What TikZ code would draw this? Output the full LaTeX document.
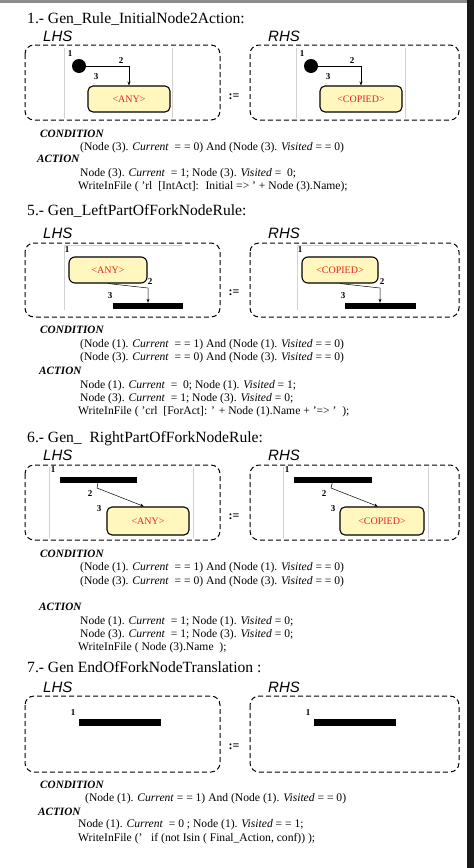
\documentclass[tikz,border=0pt]{standalone}
\usepackage{fontspec}
\setmainfont{Liberation Serif}
\setsansfont{Liberation Sans}
\usepackage{xcolor}
\usepackage{tikz}
\usetikzlibrary{arrows.meta}
\definecolor{anyfill}{RGB}{255,247,190}
\definecolor{anyred}{RGB}{228,38,34}

\begin{document}
\begin{tikzpicture}[
        x = 1pt, y = -1pt,
        rulebox/.style = {dash pattern = on 5pt off 3pt, line width = 1pt, rounded corners = 9pt},
        framegray/.style = {draw = black!18, line width = 0.5pt},
        flow/.style = {line width = 0.5pt, -{Stealth[length = 4pt, width = 3pt]}},
    ]
    \tikzstyle{headline} = [anchor = base west, inner sep = 0pt, font = \fontsize{15.6}{17}\selectfont];
    \tikzstyle{side} = [anchor = base west, inner sep = 0pt, font = \sffamily\itshape\fontsize{15}{17}\selectfont];
    \tikzstyle{keyword} = [anchor = base west, inner sep = 0pt, font = \bfseries\itshape\fontsize{11.2}{13}\selectfont];
    \tikzstyle{rulet} = [anchor = base west, inner sep = 0pt, font = \fontsize{11.6}{13}\selectfont];
    \tikzstyle{idx} = [inner sep = 0pt, font = \bfseries\fontsize{9}{10}\selectfont];
    \tikzstyle{assign} = [inner sep = 0pt, font = \bfseries\fontsize{12}{13}\selectfont];
    \tikzstyle{ctrlbox} = [draw = black, fill = anyfill, line width = 1.1pt, rounded corners = 5pt, inner sep = 0pt, text = anyred, font = \fontsize{10}{11}\selectfont];
    \tikzstyle{forkbar} = [fill = black, inner sep = 0pt, minimum height = 6pt];
    \tikzstyle{initdot} = [circle, fill = black, inner sep = 0pt, minimum size = 14pt];
    \useasboundingbox (0,0) rectangle (474,868);
    \fill [white] (0,0) rectangle (474,868);
    \fill [black!45] (0,0) rectangle (474,3);
    \fill [black!90] (467,0) rectangle (474,868);

    % 1.- initial node
    \node [headline] (title1) at (27,23) {1.- Gen\_Rule\_InitialNode2Action:};
    \node [side] (lhs1) at (43,41) {LHS};
    \node [side] (rhs1) at (268,41) {RHS};
    \draw [rulebox] (25,45) rectangle (220,120);
    \draw [rulebox] (250,45) rectangle (459,120);
    \draw [framegray] (64,48) -- (64,118) (172,48) -- (172,118);
    \draw [framegray] (296,48) -- (296,118) (405,48) -- (405,118);
    \node [initdot] (init1) at (79,66) {};
    \node [ctrlbox, minimum width = 82pt, minimum height = 26pt] (any1) at (129,99) {<ANY>};
    \node [idx] (n1a) at (70,54) {1};
    \node [idx] (n1b) at (121,61) {2};
    \node [idx] (n1c) at (96,77) {3};
    \draw [flow] (init1) -| (any1);
    \node [initdot] (init1r) at (311,66) {};
    \node [ctrlbox, minimum width = 82pt, minimum height = 26pt] (copied1) at (361,99) {<COPIED>};
    \node [idx] (n1ar) at (302,54) {1};
    \node [idx] (n1br) at (352,61) {2};
    \node [idx] (n1cr) at (328,77) {3};
    \draw [flow] (init1r) -| (copied1);
    \node [assign] (eq1) at (234,97) {:=};
    \node [keyword] (cond1) at (40,137) {CONDITION};
    \node [rulet] (cond1a) at (80,150) {(Node (3). \textit{Current} \ = = 0) And (Node (3). \textit{Visited} = = 0)};
    \node [keyword] (act1) at (37,162) {ACTION};
    \node [rulet] (act1a) at (80,176) {Node (3). \textit{Current} \ = 1; Node (3). \textit{Visited} = \ 0;};
    \node [rulet] (act1b) at (78,189) {WriteInFile ( 'rl \ [IntAct]: \ Initial => ' + Node (3).Name);};

    % 5.- left part of fork
    \node [headline] (title5) at (27,215) {5.- Gen\_LeftPartOfForkNodeRule:};
    \node [side] (lhs5) at (43,238) {LHS};
    \node [side] (rhs5) at (268,238) {RHS};
    \draw [rulebox] (25,243) rectangle (220,317);
    \draw [rulebox] (250,243) rectangle (459,317);
    \draw [framegray] (64,310) -- (64,245) -- (183,245);
    \draw [framegray] (297,310) -- (297,245) -- (417,245);
    \node [ctrlbox, minimum width = 78pt, minimum height = 26pt, rounded corners = 6pt] (any5) at (108,270) {<ANY>};
    \node [forkbar, minimum width = 70pt] (fork5) at (148,306) {};
    \coordinate (knee5) at (148,288);
    \node [idx] (n5a) at (67,250) {1};
    \node [idx] (n5b) at (150,282) {2};
    \node [idx] (n5c) at (110,296) {3};
    \draw [flow] (any5.south) -- (knee5) -- (fork5.north);
    \node [ctrlbox, minimum width = 76pt, minimum height = 26pt, rounded corners = 6pt] (copied5) at (340,270) {<COPIED>};
    \node [forkbar, minimum width = 71pt] (fork5r) at (380,306) {};
    \coordinate (knee5r) at (380,288);
    \node [idx] (n5ar) at (300,250) {1};
    \node [idx] (n5br) at (382,282) {2};
    \node [idx] (n5cr) at (343,296) {3};
    \draw [flow] (copied5.south) -- (knee5r) -- (fork5r.north);
    \node [assign] (eq5) at (234,293) {:=};
    \node [keyword] (cond5) at (40,333) {CONDITION};
    \node [rulet] (cond5a) at (80,347) {(Node (1). \textit{Current} \ = = 1) And (Node (1). \textit{Visited} = = 0)};
    \node [rulet] (cond5b) at (80,360) {(Node (3). \textit{Current} \ = = 0) And (Node (3). \textit{Visited} = = 0)};
    \node [keyword] (act5) at (39,374) {ACTION};
    \node [rulet] (act5a) at (80,388) {Node (1). \textit{Current} \ = \ 0; Node (1). \textit{Visited} = 1;};
    \node [rulet] (act5b) at (80,401) {Node (3). \textit{Current} \ = 1; Node (3). \textit{Visited} = 0;};
    \node [rulet] (act5c) at (78,414) {WriteInFile ( 'crl \ [ForAct]: ' + Node (1).Name + '=> ' \ );};

    % 6.- right part of fork
    \node [headline] (title6) at (27,442) {6.- Gen\_ \ RightPartOfForkNodeRule:};
    \node [side] (lhs6) at (43,460) {LHS};
    \node [side] (rhs6) at (268,460) {RHS};
    \draw [rulebox] (25,465) rectangle (220,540);
    \draw [rulebox] (250,465) rectangle (459,540);
    \draw [framegray] (49,467) -- (49,538) (193,467) -- (193,538);
    \draw [framegray] (283,467) -- (283,538) (428,467) -- (428,538);
    \node [forkbar, minimum width = 77pt] (fork6) at (98.5,480) {};
    \node [ctrlbox, minimum width = 82pt, minimum height = 28pt] (any6) at (148,521) {<ANY>};
    \coordinate (knee6) at (97,488);
    \node [idx] (n6a) at (53,470) {1};
    \node [idx] (n6b) at (90,494) {2};
    \node [idx] (n6c) at (99,509) {3};
    \draw [flow] (fork6) -- (knee6) -- ([xshift = -4pt]any6.north);
    \node [forkbar, minimum width = 78pt] (fork6r) at (333,480) {};
    \node [ctrlbox, minimum width = 84pt, minimum height = 28pt] (copied6) at (382,521) {<COPIED>};
    \coordinate (knee6r) at (331,488);
    \node [idx] (n6ar) at (287,470) {1};
    \node [idx] (n6br) at (324,494) {2};
    \node [idx] (n6cr) at (333,509) {3};
    \draw [flow] (fork6r) -- (knee6r) -- ([xshift = -4pt]copied6.north);
    \node [assign] (eq6) at (234,517) {:=};
    \node [keyword] (cond6) at (40,557) {CONDITION};
    \node [rulet] (cond6a) at (80,570) {(Node (1). \textit{Current} \ = = 1) And (Node (1). \textit{Visited} = = 0)};
    \node [rulet] (cond6b) at (80,584) {(Node (3). \textit{Current} \ = = 0) And (Node (3). \textit{Visited} = = 0)};
    \node [keyword] (act6) at (39,610) {ACTION};
    \node [rulet] (act6a) at (80,624) {Node (1). \textit{Current} \ = 1; Node (1). \textit{Visited} = 0;};
    \node [rulet] (act6b) at (80,637) {Node (3). \textit{Current} \ = 1; Node (3). \textit{Visited} = 0;};
    \node [rulet] (act6c) at (78,650) {WriteInFile ( Node (3).Name \ );};

    % 7.- end of fork
    \node [headline] (title7) at (27,672) {7.- Gen EndOfForkNodeTranslation :};
    \node [side] (lhs7) at (43,692) {LHS};
    \node [side] (rhs7) at (268,692) {RHS};
    \draw [rulebox] (25,696) rectangle (220,772);
    \draw [rulebox] (250,696) rectangle (459,772);
    \node [forkbar, minimum width = 82pt, minimum height = 7pt] (fork7) at (120,722.5) {};
    \node [idx] (n7a) at (73,713) {1};
    \node [forkbar, minimum width = 82pt, minimum height = 7pt] (fork7r) at (355,722.5) {};
    \node [idx] (n7ar) at (308,713) {1};
    \node [assign] (eq7) at (234,747) {:=};
    \node [keyword] (cond7) at (40,788) {CONDITION};
    \node [rulet] (cond7a) at (85,801) {(Node (1). \textit{Current} = = 1) And (Node (1). \textit{Visited} = = 0)};
    \node [keyword] (act7) at (38,815) {ACTION};
    \node [rulet] (act7a) at (78,827) {Node (1). \textit{Current} \ = 0 ; Node (1). \textit{Visited} = = 1;};
    \node [rulet] (act7b) at (78,841) {WriteInFile (' \ \ if (not Isin ( Final\_Action, conf)) );};
\end{tikzpicture}
\end{document}
